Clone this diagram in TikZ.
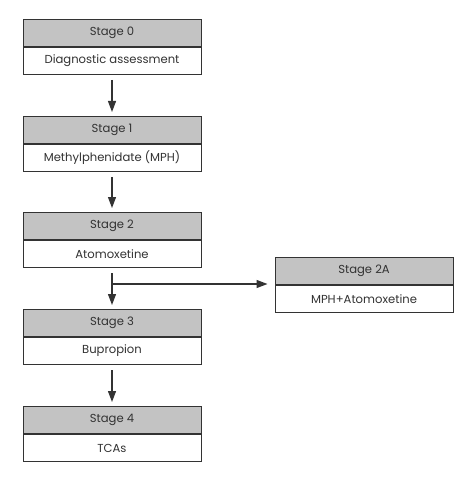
\documentclass[tikz,border=0pt]{standalone}
\usepackage{fontspec}
\setmainfont{Poppins}
\usetikzlibrary{arrows.meta,calc}
\definecolor{hdr}{HTML}{C3C3C3}
\definecolor{ink}{HTML}{333333}
\tikzset{
  hbox/.style={draw=ink,line width=1pt,fill=hdr,minimum width=178pt,minimum height=27pt,inner sep=0pt,text=ink,font=\fontsize{11.6}{13}\selectfont,anchor=north},
  bbox/.style={draw=ink,line width=1pt,fill=white,minimum width=178pt,minimum height=27pt,inner sep=0pt,text=ink,font=\fontsize{11.6}{13}\selectfont,anchor=north},
  flow/.style={draw=ink,line width=1.2pt,-{Triangle[length=11pt,width=8pt]}}
}
\begin{document}
\begin{tikzpicture}[x=1pt,y=-1pt]
\useasboundingbox (0,0) rectangle (474,478);
% stage 0
\node[hbox] (s0h) at (112,19) {Stage 0};
\node[bbox] (s0b) at (s0h.south) {Diagnostic assessment};
% stage 1
\node[hbox] (s1h) at (112,116) {Stage 1};
\node[bbox] (s1b) at (s1h.south) {Methylphenidate (MPH)};
% stage 2
\node[hbox] (s2h) at (112,212) {Stage 2};
\node[bbox] (s2b) at (s2h.south) {Atomoxetine};
% stage 2A
\node[hbox] (s2ah) at (364,257) {Stage 2A};
\node[bbox] (s2ab) at (s2ah.south) {MPH+Atomoxetine};
% stage 3
\node[hbox] (s3h) at (112,309) {Stage 3};
\node[bbox] (s3b) at (s3h.south) {Bupropion};
% stage 4
\node[hbox] (s4h) at (112,406) {Stage 4};
\node[bbox] (s4b) at (s4h.south) {TCAs};
% arrows
\draw[flow,shorten <=5pt,shorten >=4pt] (s0b.south) -- (s1h.north);
\draw[flow,shorten <=5pt,shorten >=4pt] (s1b.south) -- (s2h.north);
\draw[flow,shorten <=5pt,shorten >=4pt] (s2b.south) -- (s3h.north);
\draw[flow,shorten <=5pt,shorten >=4pt] (s3b.south) -- (s4h.north);
\coordinate (j) at (112,284);
\draw[flow,shorten >=7pt] (j) -- (j -| s2ab.west);
\end{tikzpicture}
\end{document}
